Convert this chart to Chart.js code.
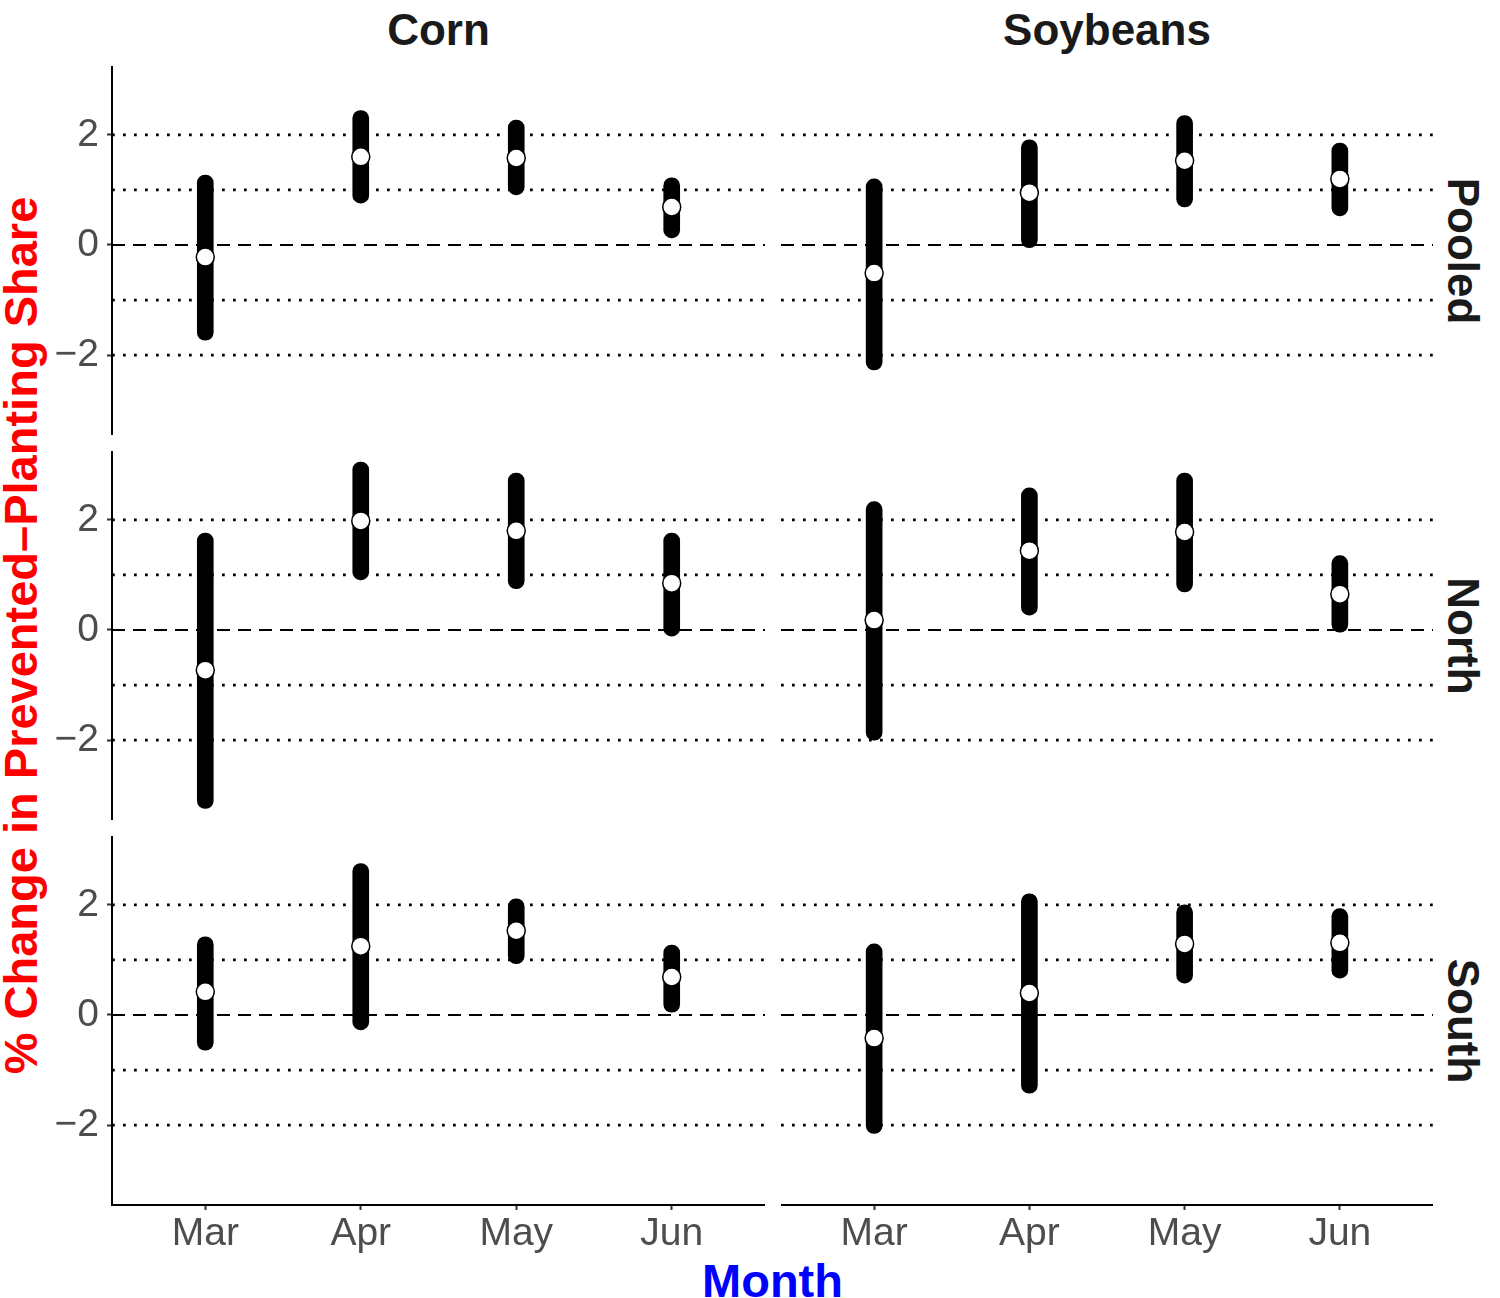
<!DOCTYPE html>
<html>
<head>
<meta charset="utf-8">
<script src="https://cdn.jsdelivr.net/npm/chart.js@4/dist/chart.umd.min.js"></script>
<style>
  body { margin: 0; background: #fff; }
  #page { position: relative; width: 1500px; height: 1298px; overflow: hidden; background: #fff;
          font-family: "Liberation Sans", Arial, Helvetica, sans-serif; }
  .box { position: absolute; }
  .lbl { position: absolute; white-space: nowrap; text-align: center; line-height: 1; font-weight: bold; }
  .strip { font-size: 44px; color: #1a1a1a; }
  .axt { font-size: 47px; }
</style>
</head>
<body>
<div id="page">
  <div class="lbl strip" style="left:238.5px;top:7.8px;width:400px;">Corn</div>
  <div class="lbl strip" style="left:907px;top:7.8px;width:400px;">Soybeans</div>
  <div class="lbl strip" style="left:1313.2px;top:228.5px;width:300px;height:44px;transform:rotate(90deg);">Pooled</div>
  <div class="lbl strip" style="left:1313.2px;top:613.5px;width:300px;height:44px;transform:rotate(90deg);">North</div>
  <div class="lbl strip" style="left:1313.2px;top:998.5px;width:300px;height:44px;transform:rotate(90deg);">South</div>
  <div class="lbl axt" style="left:-480.3px;top:611.5px;width:1000px;height:47px;color:#ff0000;transform:rotate(-90deg);">% Change in Prevented–Planting Share</div>
  <div class="lbl axt" style="left:572.5px;top:1257.2px;width:400px;color:#0000ff;">Month</div>
</div>
<script>
const months = ["Mar", "Apr", "May", "Jun"];
const crops = ["Corn", "Soybeans"];
const regions = ["Pooled", "North", "South"];
const yTicks = [-2, 0, 2];
const dottedRefs = [-2, -1, 1, 2];

// point estimates and interval ends, one array per panel
const pooledCornEst  = [-0.22, 1.60, 1.58, 0.69];
const pooledCornLow  = [-1.73, 0.76, 0.91, 0.13];
const pooledCornHigh = [1.27, 2.44, 2.27, 1.22];
const pooledSoyEst   = [-0.51, 0.95, 1.53, 1.20];
const pooledSoyLow   = [-2.27, -0.05, 0.69, 0.53];
const pooledSoyHigh  = [1.20, 1.91, 2.35, 1.85];

const northCornEst  = [-0.73, 1.98, 1.80, 0.85];
const northCornLow  = [-3.24, 0.91, 0.75, -0.11];
const northCornHigh = [1.76, 3.05, 2.85, 1.76];
const northSoyEst   = [0.18, 1.44, 1.78, 0.65];
const northSoyLow   = [-2.00, 0.27, 0.69, -0.04];
const northSoyHigh  = [2.33, 2.58, 2.85, 1.35];

const southCornEst  = [0.42, 1.25, 1.53, 0.69];
const southCornLow  = [-0.64, -0.27, 0.93, 0.05];
const southCornHigh = [1.42, 2.75, 2.11, 1.27];
const southSoyEst   = [-0.42, 0.40, 1.29, 1.31];
const southSoyLow   = [-2.15, -1.42, 0.58, 0.67];
const southSoyHigh  = [1.29, 2.20, 2.00, 1.93];

const panels = [
  [[pooledCornEst, pooledCornLow, pooledCornHigh], [pooledSoyEst, pooledSoyLow, pooledSoyHigh]],
  [[northCornEst, northCornLow, northCornHigh], [northSoyEst, northSoyLow, northSoyHigh]],
  [[southCornEst, southCornLow, southCornHigh], [southSoyEst, southSoyLow, southSoyHigh]],
];

const FONT = '"Liberation Sans", Arial, Helvetica, sans-serif';
const panelLeft = [112, 781];
const panelWidth = [653, 652];
const panelTop = [66, 451, 836];
const panelHeight = 369;
const yAxisW = 82;
const xAxisH = 60;
const xMin = 0.4, xMax = 4.6;

function refLine(v, dash, width) {
  return {
    type: "line",
    data: [{ x: xMin, y: v }, { x: xMax, y: v }],
    borderColor: "#000",
    borderWidth: width,
    borderDash: dash,
    pointRadius: 0,
    order: 2,
  };
}

const page = document.getElementById("page");

regions.forEach((region, r) => {
  crops.forEach((crop, c) => {
    const [est, low, high] = panels[r][c];
    const showX = r === 2;
    const showY = c === 0;
    const w = panelWidth[c] + (showY ? yAxisW : 0);
    const h = panelHeight + (showX ? xAxisH : 0);
    const box = document.createElement("div");
    box.className = "box";
    box.style.left = (panelLeft[c] - (showY ? yAxisW : 0)) + "px";
    box.style.top = panelTop[r] + "px";
    box.style.width = w + "px";
    box.style.height = h + "px";
    const canvas = document.createElement("canvas");
    canvas.width = w;
    canvas.height = h;
    box.appendChild(canvas);
    page.appendChild(box);

    const datasets = [
      ...dottedRefs.map((v) => refLine(v, [2.75, 8.25], 2.75)),
      refLine(0, [13, 8], 2.2),
      {
        type: "bar",
        data: months.map((m, i) => ({ x: i + 1, y: [low[i], high[i]] })),
        backgroundColor: "#000",
        borderWidth: 0,
        barThickness: 16,
        borderRadius: 8,
        borderSkipped: false,
        order: 1,
      },
      {
        type: "line",
        data: months.map((m, i) => ({ x: i + 1, y: est[i] })),
        showLine: false,
        pointRadius: 9,
        pointBackgroundColor: "#fff",
        pointBorderColor: "#000",
        pointBorderWidth: 1.5,
        order: 0,
      },
    ];

    new Chart(canvas.getContext("2d"), {
      type: "bar",
      data: { datasets },
      options: {
        responsive: false,
        animation: false,
        devicePixelRatio: 1,
        layout: { padding: 0, autoPadding: false },
        plugins: { legend: { display: false }, tooltip: { enabled: false } },
        scales: {
          x: {
            type: "linear",
            min: xMin,
            max: xMax,
            offset: false,
            display: showX,
            afterBuildTicks: (s) => { s.ticks = months.map((m, i) => ({ value: i + 1 })); },
            afterFit: (s) => {
              s.height = showX ? xAxisH : 0;
              s.paddingLeft = 0;
              s.paddingRight = 0;
            },
            ticks: {
              callback: (v, i) => months[i],
              font: { size: 39, family: FONT },
              color: "#4d4d4d",
              padding: 1,
              maxRotation: 0,
              autoSkip: false,
            },
            grid: { offset: false, drawOnChartArea: false, drawTicks: true, tickLength: 5, tickColor: "#333", tickWidth: 2 },
            border: { display: true, color: "#000", width: 2 },
          },
          y: {
            type: "linear",
            min: -3.45,
            max: 3.25,
            display: showY,
            afterBuildTicks: (s) => { s.ticks = yTicks.map((v) => ({ value: v })); },
            afterFit: (s) => {
              s.width = showY ? yAxisW : 0;
              s.paddingTop = 0;
              s.paddingBottom = 0;
            },
            ticks: {
              callback: (v) => (v < 0 ? "\u2212" + Math.abs(v) : String(v)),
              font: { size: 39, family: FONT },
              color: "#4d4d4d",
              padding: 8,
            },
            grid: { drawOnChartArea: false, drawTicks: true, tickLength: 5, tickColor: "#333", tickWidth: 2 },
            border: { display: true, color: "#000", width: 2 },
          },
        },
      },
    });
  });
});
</script>
</body>
</html>
